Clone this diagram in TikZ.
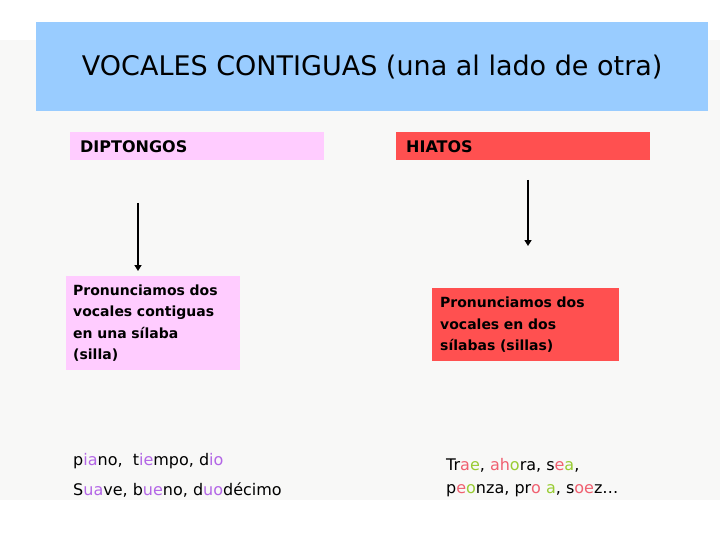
\documentclass[tikz,border=0pt]{standalone}
\usepackage{fontspec}
\setmainfont{DejaVu Sans}
\usetikzlibrary{arrows.meta}
\definecolor{titleblue}{RGB}{153,204,255}
\definecolor{diptpink}{RGB}{255,204,255}
\definecolor{hiatred}{RGB}{255,80,80}
\definecolor{vowlila}{RGB}{179,102,230}
\definecolor{vowred}{RGB}{240,96,112}
\definecolor{vowgreen}{RGB}{153,204,51}
\definecolor{slidegray}{RGB}{248,248,247}
\newcommand{\vl}[1]{\textcolor{vowlila}{#1}}
\newcommand{\vr}[1]{\textcolor{vowred}{#1}}
\newcommand{\vg}[1]{\textcolor{vowgreen}{#1}}
\tikzset{
  headbox/.style={anchor=north west, inner xsep=10pt, inner ysep=0pt, minimum width=254pt, minimum height=28pt, text width=234pt, align=left, font=\fontsize{16}{18}\selectfont\bfseries},
  textbox/.style={anchor=north west, inner xsep=7pt, inner ysep=0pt, align=left, font=\fontsize{14}{21.5}\selectfont\bfseries},
  example/.style={anchor=base west, inner sep=0pt, font=\fontsize{16}{18}\selectfont},
  arrow/.style={line width=2pt, -{Triangle[width=7pt,length=6pt]}}
}
\begin{document}
\begin{tikzpicture}[x=1pt, y=-1pt]
\useasboundingbox (0,0) rectangle (720,540);
\fill[white] (0,0) rectangle (720,540);
\fill[slidegray] (0,40) rectangle (720,500);
\node[fill=titleblue, anchor=north west, minimum width=672pt, minimum height=89pt, inner sep=0pt, font=\fontsize{27}{30}\selectfont] (title) at (36,22) {VOCALES CONTIGUAS (una al lado de otra)};
\node[headbox, fill=diptpink] (dipt) at (70,132) {DIPTONGOS};
\node[headbox, fill=hiatred] (hiat) at (396,132) {HIATOS};
\coordinate (dtop) at (138,203);
\coordinate (dbot) at (138,271);
\coordinate (htop) at (528,180);
\coordinate (hbot) at (528,246);
\draw[arrow] (dtop) -- (dbot);
\draw[arrow] (htop) -- (hbot);
\node[textbox, fill=diptpink, text width=160pt, minimum height=94pt] (ddef) at (66,276) {Pronunciamos dos\\vocales contiguas\\en una sílaba\\(silla)};
\node[textbox, fill=hiatred, inner xsep=8pt, text width=171pt, minimum height=73pt] (hdef) at (432,288) {Pronunciamos dos\\vocales en dos\\sílabas (sillas)};
\node[example] (dex1) at (73,465) {p\vl{ia}no, \ t\vl{ie}mpo, d\vl{io}};
\node[example] (dex2) at (73,495) {S\vl{ua}ve, b\vl{ue}no, d\vl{uo}décimo};
\node[example] (hex1) at (446,470) {Tr\vr{a}\vg{e}, \vr{ah}\vg{o}ra, s\vr{e}\vg{a},};
\node[example] (hex2) at (446,493) {p\vr{e}\vg{o}nza, pr\vr{o} \vg{a}, s\vr{oe}z…};
\end{tikzpicture}
\end{document}
